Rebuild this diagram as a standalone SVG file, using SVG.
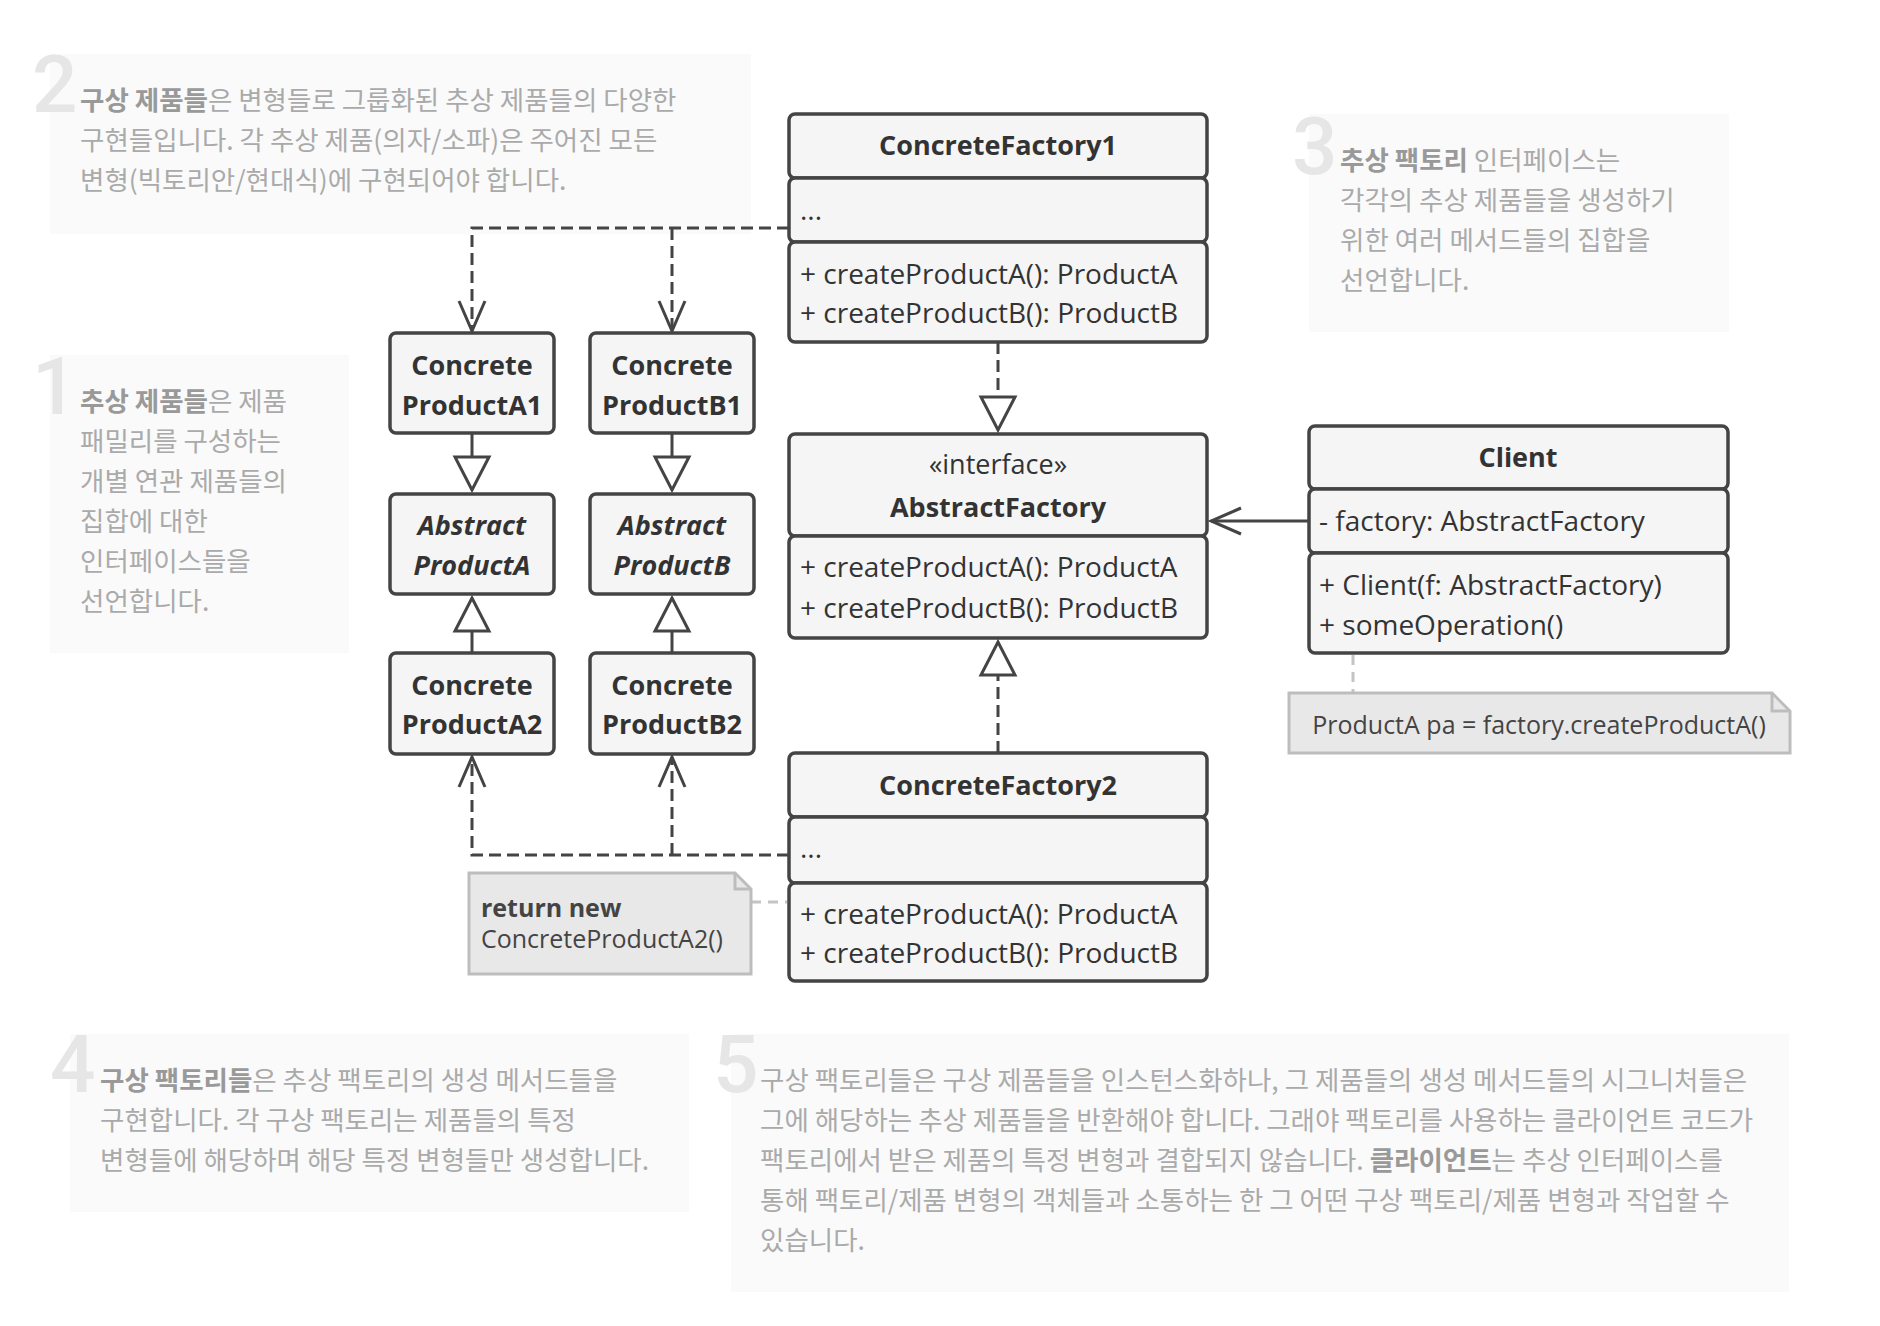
<svg xmlns="http://www.w3.org/2000/svg" width="1880" height="1326" viewBox="0 0 1880 1326">
<style>
.bg{fill:#fafafa}
.num{font-family:Roboto,"Open Sans",sans-serif;font-weight:500;font-size:80px;fill:#e6e6e6}
.nt{font-family:"Noto Sans CJK KR","Noto Sans",sans-serif;font-size:26.5px;fill:#aaaaaa}
.nt tspan.b{font-weight:700;fill:#999999}
.box{fill:#f5f5f5;stroke:#444444;stroke-width:3.5}
.t{font-family:"Open Sans","Noto Sans",sans-serif;fill:#333333}
.h{font-weight:700;font-size:27px;text-anchor:middle}
.hi{font-weight:700;font-style:italic;font-size:27px;text-anchor:middle}
.s{font-size:27px;text-anchor:middle}
.m{font-size:28px}
.note{fill:#e8e8e8;stroke:#bdbdbd;stroke-width:3}
.nx{font-family:"Open Sans","Noto Sans",sans-serif;font-size:25px;fill:#444444}
.dash{fill:none;stroke:#444444;stroke-width:3;stroke-dasharray:12 6}
.solid{fill:none;stroke:#444444;stroke-width:3}
.ndash{fill:none;stroke:#c4c4c4;stroke-width:3;stroke-dasharray:10 7}
</style>
<defs>
<marker id="vee" markerUnits="userSpaceOnUse" markerWidth="36" markerHeight="32" viewBox="0 0 36 32" refX="33" refY="16" orient="auto">
<path d="M3,3 L33,16 L3,29" fill="none" stroke="#444444" stroke-width="3" stroke-dasharray="none"/>
</marker>
<marker id="tri" markerUnits="userSpaceOnUse" markerWidth="40" markerHeight="42" viewBox="0 0 40 42" refX="36" refY="21" orient="auto">
<path d="M3,4 L36,21 L3,38 Z" fill="#ffffff" stroke="#444444" stroke-width="3" stroke-dasharray="none"/>
</marker>
</defs>
<rect width="1880" height="1326" fill="#ffffff"/>

<g id="note1">
<rect class="bg" x="50" y="355" width="299" height="298"/>
<text class="num" x="32" y="414">1</text>
<text class="nt" x="80" y="411"><tspan class="b">추상 제품들</tspan>은 제품</text>
<text class="nt" x="80" y="451">패밀리를 구성하는</text>
<text class="nt" x="80" y="491">개별 연관 제품들의</text>
<text class="nt" x="80" y="531">집합에 대한</text>
<text class="nt" x="80" y="571">인터페이스들을</text>
<text class="nt" x="80" y="611">선언합니다.</text>
</g>
<g id="note2">
<rect class="bg" x="50" y="54" width="701" height="180"/>
<text class="num" x="32" y="112">2</text>
<text class="nt" x="80" y="110"><tspan class="b">구상 제품들</tspan>은 변형들로 그룹화된 추상 제품들의 다양한</text>
<text class="nt" x="80" y="150">구현들입니다. 각 추상 제품(의자/소파)은 주어진 모든</text>
<text class="nt" x="80" y="190">변형(빅토리안/현대식)에 구현되어야 합니다.</text>
</g>
<g id="note3">
<rect class="bg" x="1309" y="114" width="420" height="218"/>
<text class="num" x="1292" y="174">3</text>
<text class="nt" x="1340" y="170"><tspan class="b">추상 팩토리</tspan> 인터페이스는</text>
<text class="nt" x="1340" y="210">각각의 추상 제품들을 생성하기</text>
<text class="nt" x="1340" y="250">위한 여러 메서드들의 집합을</text>
<text class="nt" x="1340" y="290">선언합니다.</text>
</g>
<g id="note4">
<rect class="bg" x="70" y="1034" width="619" height="178"/>
<text class="num" x="50" y="1092">4</text>
<text class="nt" x="100" y="1090"><tspan class="b">구상 팩토리들</tspan>은 추상 팩토리의 생성 메서드들을</text>
<text class="nt" x="100" y="1130">구현합니다. 각 구상 팩토리는 제품들의 특정</text>
<text class="nt" x="100" y="1170">변형들에 해당하며 해당 특정 변형들만 생성합니다.</text>
</g>
<g id="note5">
<rect class="bg" x="731" y="1034" width="1058" height="258"/>
<text class="num" x="713" y="1092">5</text>
<text class="nt" x="760" y="1090">구상 팩토리들은 구상 제품들을 인스턴스화하나, 그 제품들의 생성 메서드들의 시그니처들은</text>
<text class="nt" x="760" y="1130">그에 해당하는 추상 제품들을 반환해야 합니다. 그래야 팩토리를 사용하는 클라이언트 코드가</text>
<text class="nt" x="760" y="1170">팩토리에서 받은 제품의 특정 변형과 결합되지 않습니다. <tspan class="b">클라이언트</tspan>는 추상 인터페이스를</text>
<text class="nt" x="760" y="1210">통해 팩토리/제품 변형의 객체들과 소통하는 한 그 어떤 구상 팩토리/제품 변형과 작업할 수</text>
<text class="nt" x="760" y="1250">있습니다.</text>
</g>

<g id="connectors">
<path class="dash" d="M789,228 H472 V331" marker-end="url(#vee)"/>
<path class="dash" d="M672,228 V331" marker-end="url(#vee)"/>
<path class="dash" d="M789,855 H472 V757" marker-end="url(#vee)"/>
<path class="dash" d="M672,855 V757" marker-end="url(#vee)"/>
<path class="solid" d="M1309,521 H1211" marker-end="url(#vee)"/>
<path class="dash" d="M998,342 V430" marker-end="url(#tri)"/>
<path class="dash" d="M998,753 V642" marker-end="url(#tri)"/>
<path class="solid" d="M472,433 V490" marker-end="url(#tri)"/>
<path class="solid" d="M672,433 V490" marker-end="url(#tri)"/>
<path class="solid" d="M472,653 V598" marker-end="url(#tri)"/>
<path class="solid" d="M672,653 V598" marker-end="url(#tri)"/>
<path class="ndash" d="M1353,655 V693"/>
<path class="ndash" d="M751,902 H787"/>
</g>

<g id="ConcreteFactory1">
<rect class="box" x="789" y="114" width="418" height="64" rx="6"/>
<rect class="box" x="789" y="178" width="418" height="64" rx="6"/>
<rect class="box" x="789" y="242" width="418" height="100" rx="6"/>
<text class="t h" x="998" y="155">ConcreteFactory1</text>
<text class="t m" x="800" y="220">...</text>
<text class="t m" x="800" y="284">+ createProductA(): ProductA</text>
<text class="t m" x="800" y="323">+ createProductB(): ProductB</text>
</g>
<g id="AbstractFactory">
<rect class="box" x="789" y="434" width="418" height="102" rx="6"/>
<rect class="box" x="789" y="536" width="418" height="102" rx="6"/>
<text class="t s" x="998" y="474">«interface»</text>
<text class="t h" x="998" y="517">AbstractFactory</text>
<text class="t m" x="800" y="577">+ createProductA(): ProductA</text>
<text class="t m" x="800" y="618">+ createProductB(): ProductB</text>
</g>
<g id="ConcreteFactory2">
<rect class="box" x="789" y="753" width="418" height="64" rx="6"/>
<rect class="box" x="789" y="817" width="418" height="66" rx="6"/>
<rect class="box" x="789" y="883" width="418" height="98" rx="6"/>
<text class="t h" x="998" y="795">ConcreteFactory2</text>
<text class="t m" x="800" y="858">...</text>
<text class="t m" x="800" y="924">+ createProductA(): ProductA</text>
<text class="t m" x="800" y="963">+ createProductB(): ProductB</text>
</g>
<g id="Client">
<rect class="box" x="1309" y="426" width="419" height="63" rx="6"/>
<rect class="box" x="1309" y="489" width="419" height="64" rx="6"/>
<rect class="box" x="1309" y="553" width="419" height="100" rx="6"/>
<text class="t h" x="1518" y="467">Client</text>
<text class="t m" x="1319" y="531">- factory: AbstractFactory</text>
<text class="t m" x="1319" y="595">+ Client(f: AbstractFactory)</text>
<text class="t m" x="1319" y="635">+ someOperation()</text>
</g>
<g id="ConcreteProductA1">
<rect class="box" x="390" y="333" width="164" height="100" rx="6"/>
<text class="t h" x="472" y="375">Concrete</text>
<text class="t h" x="472" y="415">ProductA1</text>
</g>
<g id="ConcreteProductB1">
<rect class="box" x="590" y="333" width="164" height="100" rx="6"/>
<text class="t h" x="672" y="375">Concrete</text>
<text class="t h" x="672" y="415">ProductB1</text>
</g>
<g id="AbstractProductA">
<rect class="box" x="390" y="494" width="164" height="100" rx="6"/>
<text class="t hi" x="472" y="535">Abstract</text>
<text class="t hi" x="472" y="575">ProductA</text>
</g>
<g id="AbstractProductB">
<rect class="box" x="590" y="494" width="164" height="100" rx="6"/>
<text class="t hi" x="672" y="535">Abstract</text>
<text class="t hi" x="672" y="575">ProductB</text>
</g>
<g id="ConcreteProductA2">
<rect class="box" x="390" y="653" width="164" height="101" rx="6"/>
<text class="t h" x="472" y="695">Concrete</text>
<text class="t h" x="472" y="734">ProductA2</text>
</g>
<g id="ConcreteProductB2">
<rect class="box" x="590" y="653" width="164" height="101" rx="6"/>
<text class="t h" x="672" y="695">Concrete</text>
<text class="t h" x="672" y="734">ProductB2</text>
</g>
<g id="noteClient">
<path class="note" d="M1289,693 H1772 L1790,711 V753 H1289 Z"/>
<path d="M1772,693 V711 H1790" fill="none" stroke="#bdbdbd" stroke-width="3"/>
<text class="nx" x="1539" y="734" text-anchor="middle">ProductA pa = factory.createProductA()</text>
</g>
<g id="noteReturn">
<path class="note" d="M469,873 H735 L751,889 V974 H469 Z"/>
<path d="M735,873 V889 H751" fill="none" stroke="#bdbdbd" stroke-width="3"/>
<text class="nx" x="481" y="917" font-weight="700">return new</text>
<text class="nx" x="481" y="948">ConcreteProductA2()</text>
</g>
</svg>
